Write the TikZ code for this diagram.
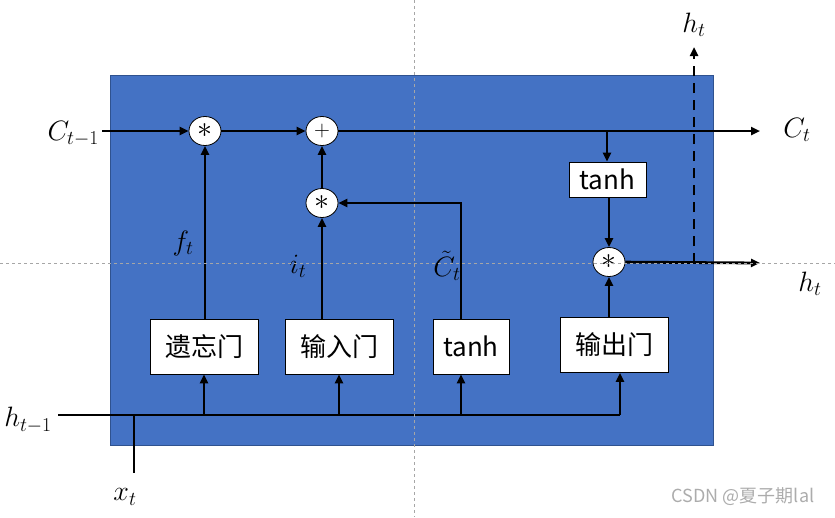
\RequirePackage{fix-cm}
\documentclass[tikz,border=0pt]{standalone}
\usepackage{fontspec}
\newfontfamily\cjk{Noto Sans CJK SC}
\usetikzlibrary{arrows.meta,shapes.geometric}
\definecolor{cellblue}{HTML}{4472C4}
\definecolor{cellborder}{HTML}{2F528F}
\begin{document}
\begin{tikzpicture}[x=1pt,y=-1pt,
  wire/.style={line width=2.8pt},
  arr/.style={line width=2.8pt,-{Triangle[length=9pt,width=8pt]}},
  op/.style={ellipse,draw=black,line width=0.8pt,fill=white,minimum width=32pt,minimum height=29pt,inner sep=0pt,font=\fontsize{30}{32}\selectfont},
  gate/.style={rectangle,draw=black,line width=0.8pt,fill=white,inner sep=0pt,minimum height=55pt,font=\cjk\fontsize{26}{30}\selectfont},
  lbl/.style={inner sep=0pt,font=\fontsize{28}{32}\selectfont},
  guide/.style={draw=gray!70,line width=0.6pt,dash pattern=on 3pt off 3pt}
]
\useasboundingbox (0,0) rectangle (835,517);
% cell
\node[draw=cellborder,fill=cellblue,line width=0.8pt,minimum width=603pt,minimum height=370pt,inner sep=0pt] (cell) at (411.5,260) {};

% operators
\node[op] (m1) at (205,131) {$\ast$};
\node[op,font=\fontsize{22}{24}\selectfont] (add) at (322,131) {$+$};
\node[op] (m2) at (322,203) {$\ast$};
\node[op] (m3) at (609,262) {$\ast$};

% gates
\node[gate,minimum width=108pt] (fg) at (204,346.5) {遗忘门};
\node[gate,minimum width=108pt] (ig) at (339,346.5) {输入门};
\node[gate,minimum width=76pt] (tg) at (471,346.5) {tanh};
\node[gate,minimum width=108pt] (og) at (614,345) {输出门};
\node[gate,minimum width=77pt,minimum height=35pt] (tc) at (607.5,179.5) {tanh};

% coordinates
\coordinate (cin) at (102,131);
\coordinate (cout) at (760,131);
\coordinate (br) at (607,131);
\coordinate (hout) at (760,263);
\coordinate (dj) at (694,263);
\coordinate (dtop) at (694,47);
\coordinate (hin) at (58,415);
\coordinate (hend) at (620,415);
\coordinate (xj) at (134,415);
\coordinate (xin) at (134,473);
\coordinate (ct) at (461,203);

% cell state line
\draw[arr] (cin) -- (m1);
\draw[arr] (m1) -- (add);
\draw[arr] (add) -- (cout);
\draw[arr] (br) -- (tc.north -| br);
\draw[arr] (tc.south -| m3) -- (m3);
\draw[arr] (m3) -- (hout);
\draw[line width=2.8pt,dash pattern=on 10pt off 7pt,-{Triangle[length=9pt,width=8pt]}] (dj) -- (dtop);

% gate outputs
\draw[arr] (fg.north -| m1) -- (m1);
\draw[arr] (ig.north -| m2) -- (m2);
\draw[arr] (m2) -- (add);
\draw[arr] (tg.north -| ct) -- (ct) -- (m2);
\draw[arr] (og.north -| m3) -- (m3);

% inputs
\draw[wire] (hin) -- (hend);
\draw[wire] (xj) -- (xin);
\draw[arr] (fg.south |- hin) -- (fg.south);
\draw[arr] (ig.south |- hin) -- (ig.south);
\draw[arr] (ct |- hin) -- (tg.south -| ct);
\draw[arr] (hend) -- (og.south -| hend);

% labels
\node[lbl,anchor=east] (lc0) at (99,134) {$C_{t-1}$};
\node[lbl] (lc1) at (797,130) {$C_t$};
\node[lbl] (lh1) at (810,284) {$h_t$};
\node[lbl] (lh2) at (694,25) {$h_t$};
\node[lbl] (lf) at (183,243) {$f_t$};
\node[lbl] (li) at (298,266) {$i_t$};
\node[lbl] (lct) at (447,266) {$\tilde{C}_t$};
\node[lbl] (lh0) at (28,420) {$h_{t-1}$};
\node[lbl] (lx) at (125,497) {$x_t$};

% guides
\draw[guide] (414,0) -- (414,517);
\draw[guide] (0,263) -- (835,263);

% watermark
\node[font=\cjk\fontsize{18}{20}\selectfont,text=gray!65,inner sep=0pt] (wm) at (743,497) {CSDN @夏子期lal};
\end{tikzpicture}
\end{document}
